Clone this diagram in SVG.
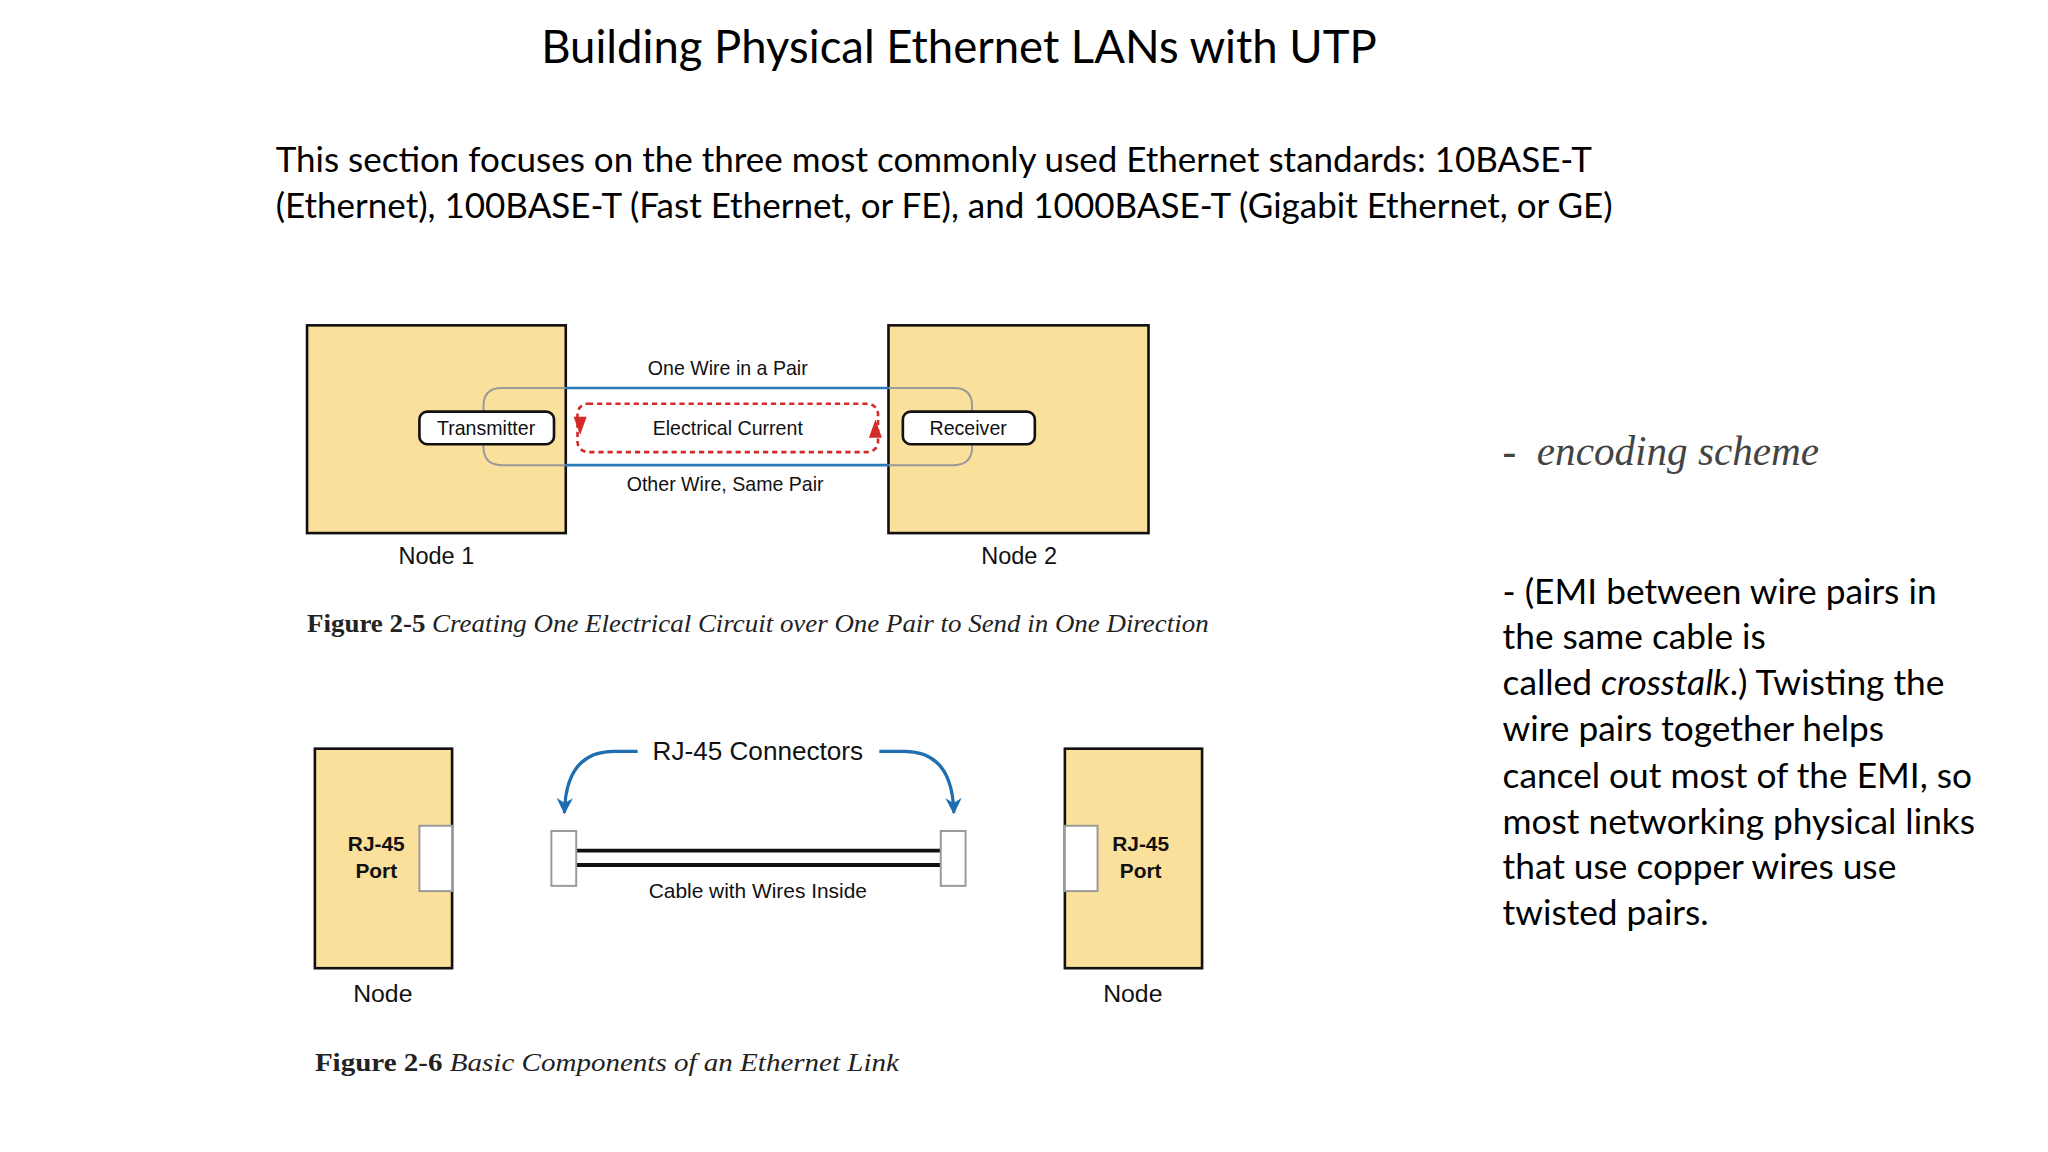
<svg xmlns="http://www.w3.org/2000/svg" width="2048" height="1152" viewBox="0 0 2048 1152">
<defs>
<style>
.s{font-family:"Liberation Sans",Arial,sans-serif;fill:#111}
.l{font-family:Lato,"Open Sans",sans-serif;fill:#000}
.f{font-family:"Liberation Serif",serif;font-size:19px;fill:#222}
.node{fill:#fbe09c;stroke:#111;stroke-width:2}
.port{fill:#fff;stroke:#999;stroke-width:1.5}
</style>
<marker id="bl" viewBox="0 0 10 10" refX="9" refY="5" markerWidth="5" markerHeight="5" orient="auto"><path d="M0,0 L10,5 L0,10 L3,5 Z" fill="#1f6fb0"/></marker>
</defs>
<rect width="2048" height="1152" fill="#fff"/>
<g transform="scale(1.3066)">
<text class="l" x="734" y="48" font-size="34.8" text-anchor="middle">Building Physical Ethernet LANs with UTP</text>
<text class="l" font-size="26.8"><tspan x="211" y="132">This section focuses on the three most commonly used Ethernet standards: 10BASE-T</tspan><tspan x="211" y="167">(Ethernet), 100BASE-T (Fast Ethernet, or FE), and 1000BASE-T (Gigabit Ethernet, or GE)</tspan></text>

<g id="node1"><rect class="node" x="235" y="249" width="198" height="159"/>
<text class="s" x="334" y="432" font-size="18" text-anchor="middle">Node 1</text></g>
<g id="node2"><rect class="node" x="680" y="249" width="199" height="159"/>
<text class="s" x="780" y="432" font-size="18" text-anchor="middle">Node 2</text></g>
<g id="connectors1" fill="none">
<path d="M433,297 H384 Q370,297 370,311 V342 Q370,356 384,356 H433" stroke="#999" stroke-width="1.5"/>
<path d="M680,297 H730 Q744,297 744,311 V342 Q744,356 730,356 H680" stroke="#999" stroke-width="1.5"/>
<line x1="433" y1="297" x2="680" y2="297" stroke="#2a7ab8" stroke-width="2"/>
<line x1="433" y1="356" x2="680" y2="356" stroke="#2a7ab8" stroke-width="2"/>
<rect x="442" y="309" width="230" height="37" rx="8" stroke="#d42a2a" stroke-width="2" stroke-dasharray="4,3"/>
<path d="M439,319 L449,319 L444,333 Z" fill="#d42a2a" stroke="none"/>
<path d="M665,335 L675,335 L670,321 Z" fill="#d42a2a" stroke="none"/>
</g>
<g id="transmitter"><rect x="321" y="315" width="103" height="25" rx="6" fill="#fff" stroke="#111" stroke-width="2"/>
<text class="s" x="372" y="333" font-size="15" text-anchor="middle">Transmitter</text></g>
<g id="receiver"><rect x="691" y="315" width="101" height="25" rx="6" fill="#fff" stroke="#111" stroke-width="2"/>
<text class="s" x="741" y="333" font-size="15" text-anchor="middle">Receiver</text></g>
<text class="s" x="557" y="287" font-size="15" text-anchor="middle">One Wire in a Pair</text>
<text class="s" x="557" y="333" font-size="15" text-anchor="middle">Electrical Current</text>
<text class="s" x="555" y="376" font-size="15" text-anchor="middle">Other Wire, Same Pair</text>
<text class="f" x="235" y="484" textLength="690" lengthAdjust="spacingAndGlyphs"><tspan font-weight="bold">Figure 2-5</tspan> <tspan font-style="italic">Creating One Electrical Circuit over One Pair to Send in One Direction</tspan></text>

<g id="nodeL"><rect class="node" x="241" y="573" width="105" height="168"/>
<rect class="port" x="321" y="632" width="25" height="50"/>
<text class="s" x="288" y="651" font-size="16" font-weight="bold" text-anchor="middle">RJ-45</text>
<text class="s" x="288" y="672" font-size="16" font-weight="bold" text-anchor="middle">Port</text>
<text class="s" x="293" y="767" font-size="19" text-anchor="middle">Node</text></g>
<g id="nodeR"><rect class="node" x="815" y="573" width="105" height="168"/>
<rect class="port" x="815" y="632" width="25" height="50"/>
<text class="s" x="873" y="651" font-size="16" font-weight="bold" text-anchor="middle">RJ-45</text>
<text class="s" x="873" y="672" font-size="16" font-weight="bold" text-anchor="middle">Port</text>
<text class="s" x="867" y="767" font-size="19" text-anchor="middle">Node</text></g>
<g id="cable">
<line x1="441" y1="651" x2="720" y2="651" stroke="#111" stroke-width="3"/>
<line x1="441" y1="662" x2="720" y2="662" stroke="#111" stroke-width="3"/>
<rect class="port" x="422" y="636" width="19" height="42"/>
<rect class="port" x="720" y="636" width="19" height="42"/>
<text class="s" x="580" y="687" font-size="16" text-anchor="middle">Cable with Wires Inside</text>
</g>
<g id="connectors2" fill="none" stroke="#1f6fb0" stroke-width="2.5">
<path d="M488,575 H470 Q433,575 432,622" marker-end="url(#bl)"/>
<path d="M673,575 H692 Q729,575 730,622" marker-end="url(#bl)"/>
</g>
<text class="s" x="580" y="582" font-size="20" text-anchor="middle">RJ-45 Connectors</text>
<text class="f" x="241" y="820" textLength="447" lengthAdjust="spacingAndGlyphs"><tspan font-weight="bold">Figure 2-6</tspan> <tspan font-style="italic">Basic Components of an Ethernet Link</tspan></text>

<text x="1150" y="356" font-family="Liberation Serif,serif" font-size="31.5" fill="#444" font-style="italic" xml:space="preserve">-  encoding scheme</text>
<text class="l" font-size="27"><tspan x="1150" y="462">- (EMI between wire pairs in</tspan><tspan x="1150" y="497">the same cable is</tspan><tspan x="1150" y="532">called <tspan font-style="italic">crosstalk</tspan>.) Twisting the</tspan><tspan x="1150" y="567">wire pairs together helps</tspan><tspan x="1150" y="603">cancel out most of the EMI, so</tspan><tspan x="1150" y="638">most networking physical links</tspan><tspan x="1150" y="673">that use copper wires use</tspan><tspan x="1150" y="708">twisted pairs.</tspan></text>
</g>
</svg>
